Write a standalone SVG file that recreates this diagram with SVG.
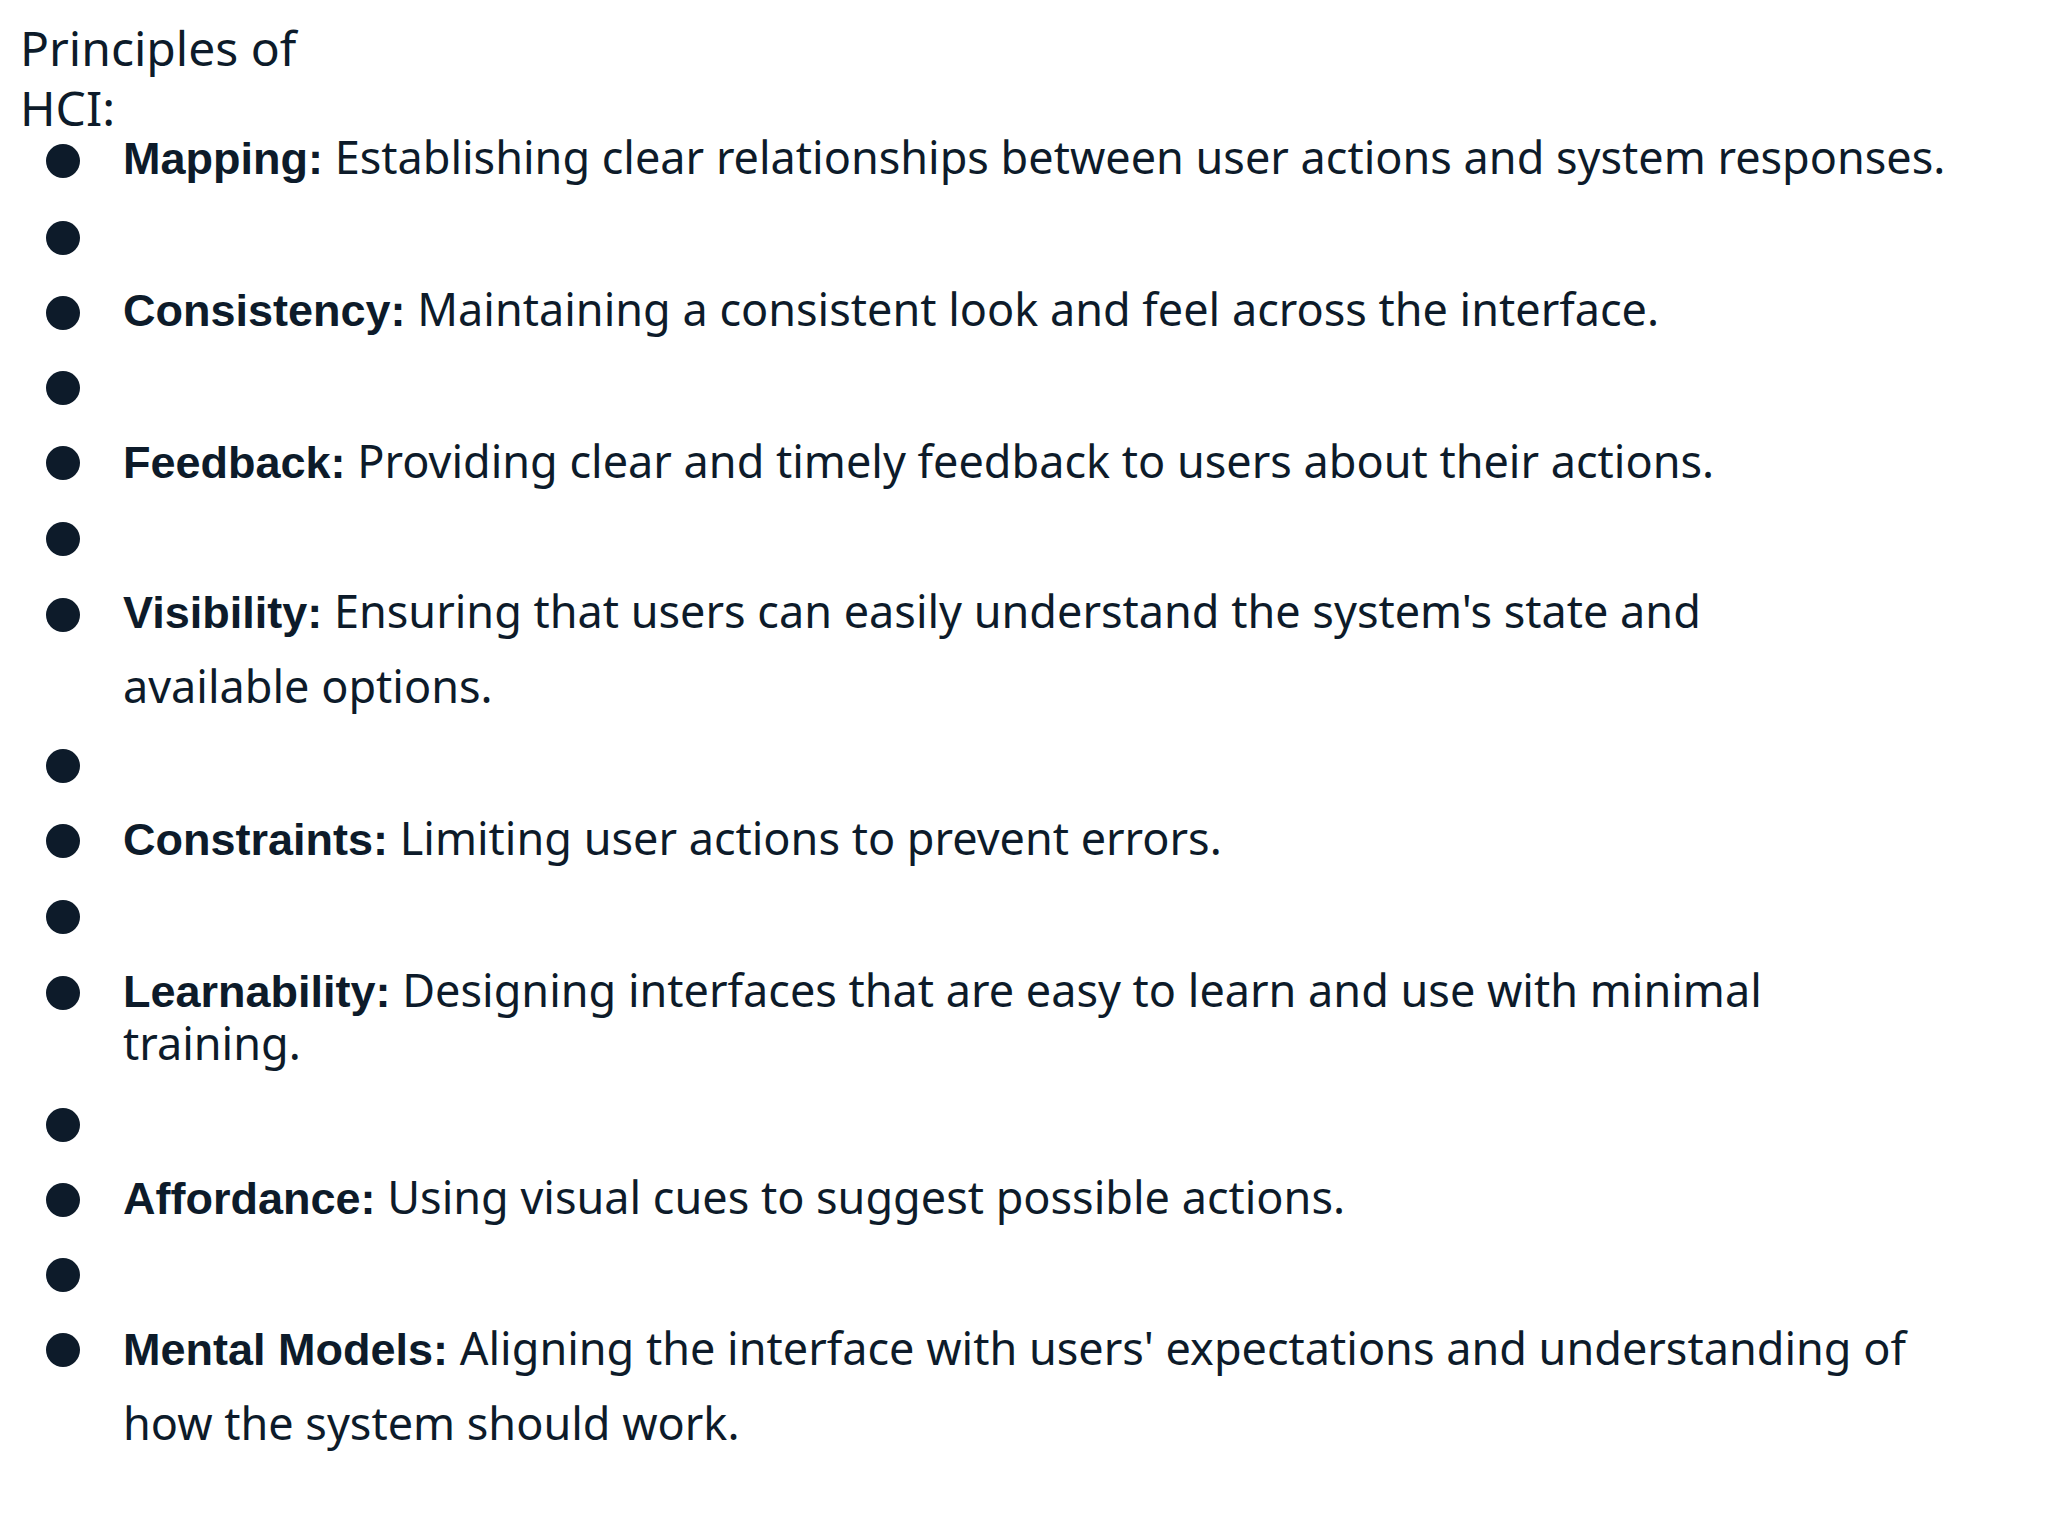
<svg xmlns="http://www.w3.org/2000/svg" width="2048" height="1536" viewBox="0 0 2048 1536">
<style>
text{fill:#0d1b2a;font-family:"Noto Sans","Open Sans",sans-serif;font-size:45px}
.t{font-size:48px}
.b{font-family:"Liberation Sans",Arial,sans-serif;font-weight:bold}
circle{fill:#0d1b2a}
</style>
<rect width="2048" height="1536" fill="#fff"/>
<g id="title"><text class="t" x="20" y="66">Principles of</text><text class="t" x="20" y="126">HCI:</text></g>
<g id="bullets">
<circle cx="63" cy="161" r="17"/><circle cx="63" cy="238" r="17"/><circle cx="63" cy="313" r="17"/><circle cx="63" cy="388" r="17"/><circle cx="63" cy="463" r="17"/><circle cx="63" cy="539" r="17"/><circle cx="63" cy="615" r="17"/><circle cx="63" cy="766" r="17"/><circle cx="63" cy="841" r="17"/><circle cx="63" cy="917" r="17"/><circle cx="63" cy="993" r="17"/><circle cx="63" cy="1125" r="17"/><circle cx="63" cy="1200" r="17"/><circle cx="63" cy="1275" r="17"/><circle cx="63" cy="1350" r="17"/>
</g>
<g id="items">
<text x="123" y="174"><tspan class="b">Mapping:</tspan> Establishing clear relationships between user actions and system responses.</text>
<text x="123" y="326"><tspan class="b">Consistency:</tspan> Maintaining a consistent look and feel across the interface.</text>
<text x="123" y="478"><tspan class="b">Feedback:</tspan> Providing clear and timely feedback to users about their actions.</text>
<text x="123" y="628"><tspan class="b">Visibility:</tspan> Ensuring that users can easily understand the system's state and</text>
<text x="123" y="703">available options.</text>
<text x="123" y="855"><tspan class="b">Constraints:</tspan> Limiting user actions to prevent errors.</text>
<text x="123" y="1007"><tspan class="b">Learnability:</tspan> Designing interfaces that are easy to learn and use with minimal</text>
<text x="123" y="1060">training.</text>
<text x="123" y="1214"><tspan class="b">Affordance:</tspan> Using visual cues to suggest possible actions.</text>
<text x="123" y="1365"><tspan class="b">Mental Models:</tspan> Aligning the interface with users' expectations and understanding of</text>
<text x="123" y="1440">how the system should work.</text>
</g>
</svg>
